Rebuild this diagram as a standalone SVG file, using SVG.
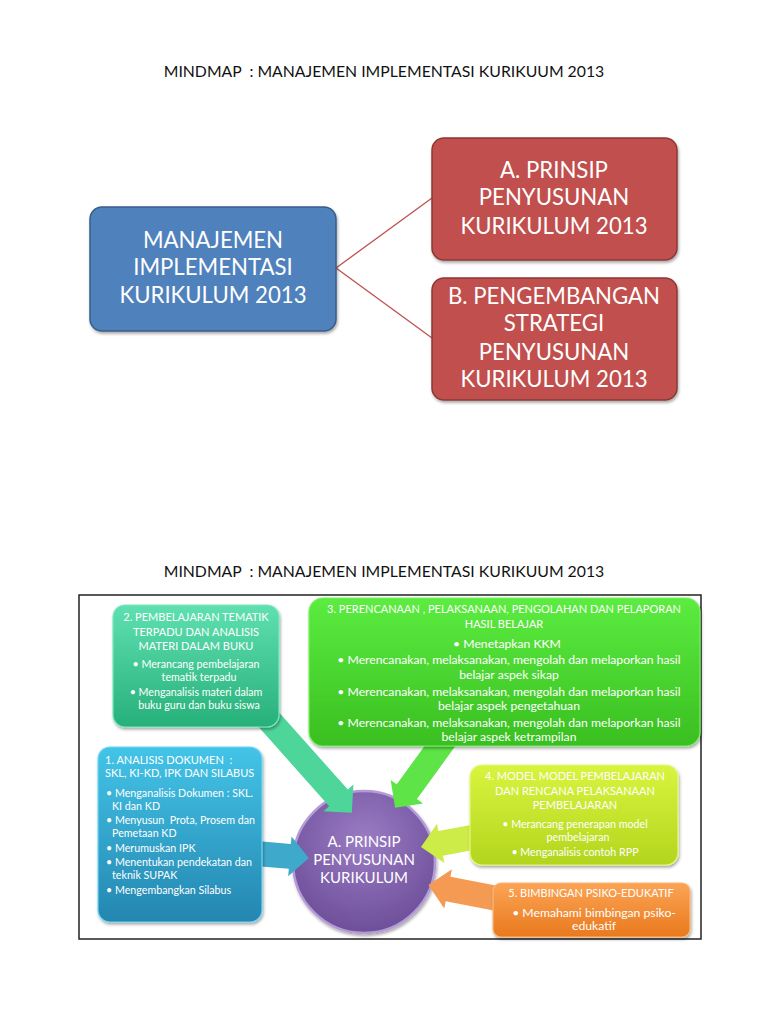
<svg xmlns="http://www.w3.org/2000/svg" width="768" height="1024" viewBox="0 0 768 1024">
<defs>
<style>
text{font-family:Lato,"Open Sans","Noto Sans",sans-serif;fill:#fff;white-space:pre}
.ttl{fill:#111;font-size:15.8px;text-anchor:middle}
.big{font-size:22.2px;text-anchor:middle}
.h{font-size:11px}
.b{font-size:10.7px}
.c{text-anchor:middle}
.g{font-size:12.2px}
.circ{font-size:15px;text-anchor:middle}
.edge{stroke:#c0504d;stroke-width:1.3;fill:none}
</style>
<filter id="sh" x="-10%" y="-10%" width="125%" height="130%"><feDropShadow dx="1" dy="2" stdDeviation="1.5" flood-color="#000" flood-opacity="0.35"/></filter>
<linearGradient id="gBlue" x1="0" y1="0" x2="0" y2="1"><stop offset="0" stop-color="#43c4e8"/><stop offset="1" stop-color="#2486b0"/></linearGradient>
<linearGradient id="gTeal" x1="0" y1="0" x2="0" y2="1"><stop offset="0" stop-color="#5fe0b1"/><stop offset="1" stop-color="#27b07a"/></linearGradient>
<linearGradient id="gGreen" x1="0" y1="0" x2="0" y2="1"><stop offset="0" stop-color="#5cec40"/><stop offset="1" stop-color="#39bf21"/></linearGradient>
<linearGradient id="gYel" x1="0" y1="0" x2="0" y2="1"><stop offset="0" stop-color="#d9f43e"/><stop offset="1" stop-color="#b3d51e"/></linearGradient>
<linearGradient id="gOr" x1="0" y1="0" x2="0" y2="1"><stop offset="0" stop-color="#fba455"/><stop offset="1" stop-color="#e9791d"/></linearGradient>
<radialGradient id="gPur" cx="0.5" cy="0.35" r="0.7"><stop offset="0" stop-color="#9a7cc4"/><stop offset="1" stop-color="#6a4b96"/></radialGradient>
</defs>
<rect width="768" height="1024" fill="#fff"/>

<text class="ttl" x="384" y="77">MINDMAP  : MANAJEMEN IMPLEMENTASI KURIKUUM 2013</text>

<g id="connectors-top">
<line class="edge" x1="336" y1="268" x2="432" y2="198"/>
<line class="edge" x1="336" y1="268" x2="432" y2="338"/>
</g>

<g id="node-root">
<rect x="90" y="207" width="246" height="124" rx="12" fill="#4f81bd" stroke="#385d8a" stroke-width="1.5" filter="url(#sh)"/>
<text class="big" x="213" y="248">MANAJEMEN</text>
<text class="big" x="213" y="275">IMPLEMENTASI</text>
<text class="big" x="213" y="303">KURIKULUM 2013</text>
</g>
<g id="node-a">
<rect x="432" y="138" width="245" height="122" rx="12" fill="#c0504d" stroke="#8c3836" stroke-width="1.5" filter="url(#sh)"/>
<text class="big" x="554" y="178">A. PRINSIP</text>
<text class="big" x="554" y="205">PENYUSUNAN</text>
<text class="big" x="554" y="234">KURIKULUM 2013</text>
</g>
<g id="node-b">
<rect x="432" y="278" width="245" height="122" rx="12" fill="#c0504d" stroke="#8c3836" stroke-width="1.5" filter="url(#sh)"/>
<text class="big" x="554" y="304">B. PENGEMBANGAN</text>
<text class="big" x="554" y="331">STRATEGI</text>
<text class="big" x="554" y="360">PENYUSUNAN</text>
<text class="big" x="554" y="387">KURIKULUM 2013</text>
</g>

<text class="ttl" x="384" y="577">MINDMAP  : MANAJEMEN IMPLEMENTASI KURIKUUM 2013</text>

<rect id="frame" x="79" y="595" width="622" height="344" fill="none" stroke="#222" stroke-width="1.5"/>

<g id="node-center">
<circle cx="364" cy="862" r="71" fill="url(#gPur)" stroke="#b49ad6" stroke-width="2.5" filter="url(#sh)"/>
<text class="circ" x="364" y="847">A. PRINSIP</text>
<text class="circ" x="364" y="865">PENYUSUNAN</text>
<text class="circ" x="364" y="883">KURIKULUM</text>
</g>

<g id="connectors">
<polygon transform="translate(262,712) rotate(48.3)" points="0,-12.5 115,-12.5 115,-20 135,0 115,20 115,12.5 0,12.5" fill="#4dd59a"/>
<polygon transform="translate(448,735) rotate(126)" points="0,-12.5 70,-12.5 70,-20 90,0 70,20 70,12.5 0,12.5" fill="#5ee447"/>
<polygon transform="translate(250,853) rotate(4.8)" points="0,-12.5 40,-12.5 40,-20 59,0 40,20 40,12.5 0,12.5" fill="#3fa9cb"/>
<polygon transform="translate(480,836) rotate(169.4)" points="0,-12.5 40,-12.5 40,-20 60,0 40,20 40,12.5 0,12.5" fill="#cdec48"/>
<polygon transform="translate(505,900) rotate(191)" points="0,-12.5 58,-12.5 58,-20 78,0 58,20 58,12.5 0,12.5" fill="#f59a52"/>
</g>

<g id="node-2">
<rect x="113" y="605" width="166" height="122" rx="12" fill="url(#gTeal)" stroke="#7ae8c0" stroke-width="1.2" filter="url(#sh)"/>
<text class="h c" x="196" y="621">2. PEMBELAJARAN TEMATIK</text>
<text class="h c" x="196" y="636">TERPADU DAN ANALISIS</text>
<text class="h c" x="196" y="650">MATERI DALAM BUKU</text>
<text class="b c" x="196" y="668">• Merancang pembelajaran</text>
<text class="b c" x="199" y="681">tematik terpadu</text>
<text class="b c" x="196" y="696">• Menganalisis materi dalam</text>
<text class="b c" x="199" y="709">buku guru dan buku siswa</text>
</g>

<g id="node-3">
<rect x="309" y="598" width="391" height="148" rx="14" fill="url(#gGreen)" stroke="#7af060" stroke-width="1.2" filter="url(#sh)"/>
<text class="h c" x="504" y="613">3. PERENCANAAN , PELAKSANAAN, PENGOLAHAN DAN PELAPORAN</text>
<text class="h c" x="504" y="628">HASIL BELAJAR</text>
<text class="g c" x="507" y="648">• Menetapkan KKM</text>
<text class="g c" x="509" y="664">• Merencanakan, melaksanakan, mengolah dan melaporkan hasil</text>
<text class="g c" x="509" y="679">belajar aspek sikap</text>
<text class="g c" x="509" y="696">• Merencanakan, melaksanakan, mengolah dan melaporkan hasil</text>
<text class="g c" x="509" y="710">belajar aspek pengetahuan</text>
<text class="g c" x="509" y="727">• Merencanakan, melaksanakan, mengolah dan melaporkan hasil</text>
<text class="g c" x="509" y="741">belajar aspek ketrampilan</text>
</g>

<g id="node-1">
<rect x="98" y="747" width="164" height="175" rx="12" fill="url(#gBlue)" stroke="#6fd6f2" stroke-width="1.2" filter="url(#sh)"/>
<text class="h" x="105" y="764">1. ANALISIS DOKUMEN  :</text>
<text class="h" x="105" y="777">SKL, KI-KD, IPK DAN SILABUS</text>
<text class="b" x="106" y="797">• Menganalisis Dokumen : SKL.</text>
<text class="b" x="112" y="810">KI dan KD</text>
<text class="b" x="106" y="824">• Menyusun  Prota, Prosem dan</text>
<text class="b" x="112" y="837">Pemetaan KD</text>
<text class="b" x="106" y="852">• Merumuskan IPK</text>
<text class="b" x="106" y="866">• Menentukan pendekatan dan</text>
<text class="b" x="112" y="879">teknik SUPAK</text>
<text class="b" x="106" y="894">• Mengembangkan Silabus</text>
</g>

<g id="node-4">
<rect x="470" y="765" width="208" height="100" rx="12" fill="url(#gYel)" stroke="#e6f87a" stroke-width="1.2" filter="url(#sh)"/>
<text class="h c" x="575" y="780">4. MODEL MODEL PEMBELAJARAN</text>
<text class="h c" x="575" y="795">DAN RENCANA PELAKSANAAN</text>
<text class="h c" x="575" y="809">PEMBELAJARAN</text>
<text class="b c" x="575" y="828">• Merancang penerapan model</text>
<text class="b c" x="578" y="841">pembelajaran</text>
<text class="b c" x="575" y="856">• Menganalisis contoh RPP</text>
</g>

<g id="node-5">
<rect x="493" y="883" width="197" height="54" rx="8" fill="url(#gOr)" stroke="#fbb878" stroke-width="1.2" filter="url(#sh)"/>
<text class="h c" x="591" y="897">5. BIMBINGAN PSIKO-EDUKATIF</text>
<text class="g c" x="594" y="917">• Memahami bimbingan psiko-</text>
<text class="g c" x="594" y="930">edukatif</text>
</g>
</svg>
